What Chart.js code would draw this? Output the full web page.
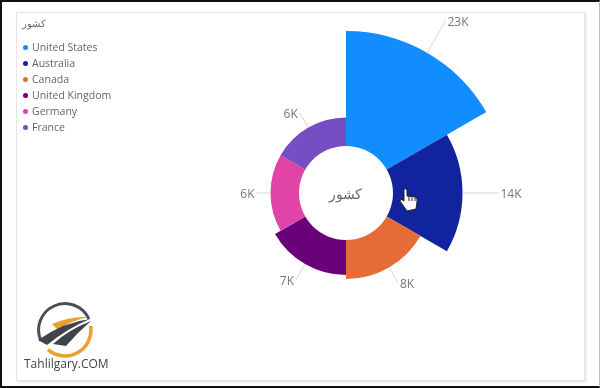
<!DOCTYPE html>
<html>
<head>
<meta charset="utf-8">
<title>کشور</title>
<script src="https://cdn.jsdelivr.net/npm/chart.js@4/dist/chart.umd.js"></script>
<style>
    html, body { margin: 0; padding: 0; background: #fff; }
    #wrap { position: relative; width: 600px; height: 388px; overflow: hidden; }
    #frame { position: absolute; left: 0; top: 0; width: 597px; height: 384px; border: 1px solid #bbb; border-top: 2px solid #111; border-left: 2px solid #111; border-bottom: 2px solid #111; }
    #card { position: absolute; left: 16px; top: 12px; width: 567px; height: 367px; border: 1px solid #e6e6e6; box-shadow: 1px 1px 2px #ddd; }
    #chart { position: absolute; left: 0; top: 0; }
    #logo, #cursor { position: absolute; }
    #logo { left: 20px; top: 302px; }
    #cursor { left: 399px; top: 187px; }
    #brand { position: absolute; left: 24px; top: 355px; font: 12px "Open Sans", sans-serif; color: #444; }
    #legendTitle { position: absolute; left: 22px; top: 16px; font: 10px "Open Sans", sans-serif; color: #666; }
    #legend { position: absolute; left: 23px; top: 39px; font: 10.5px "Open Sans", sans-serif; color: #666; }
    #legend div { height: 16px; line-height: 16px; white-space: nowrap; }
    #legend span { display: inline-block; width: 5px; height: 5px; border-radius: 50%; margin-right: 4px; vertical-align: 1px; }
</style>
</head>
<body>
<div id="wrap">
    <div id="frame"></div>
    <div id="card"></div>
    <canvas id="chart" width="600" height="388"></canvas>
    <div id="legendTitle"></div>
    <div id="legend"></div>
    <svg id="logo" width="80" height="56" viewBox="0 0 80 56">
        <path d="M21 39 A26 26 0 0 1 69 17" fill="none" stroke="#4a4f57" stroke-width="3"/>
        <path d="M70.7 24 A26 26 0 0 1 28 47.6" fill="none" stroke="#e9a02e" stroke-width="3.5"/>
        <path d="M32 22 Q50 14 68 15 Q50 19 38 28 Z" fill="#e9a02e"/>
        <path d="M18 38 Q44 20 70 17 Q48 26 27 43 Z" fill="#3f444c"/>
        <path d="M33 42 Q48 28 71 19 Q58 30 46 44 Z" fill="#3f444c"/>
    </svg>
    <div id="brand">Tahlilgary.COM</div>
    <svg id="cursor" width="20" height="26" viewBox="0 0 20 26">
        <path d="M5 2 Q7 1 8 3 L8 9 L16 10 Q19 11 18 15 L17 22 L8 24 L1 14 Q1 11 5 14 Z" fill="#fff" stroke="#222" stroke-width="1"/>
        <path d="M10 10 V14 M13 10.5 V14 M16 11 V14" stroke="#222" stroke-width="1"/>
    </svg>
</div>
<script>
const categories = ['United States', 'Australia', 'Canada', 'United Kingdom', 'Germany', 'France'];
const salesValues = [23000, 13900, 7800, 7000, 5700, 5700];
const sliceColors = ['#118dff', '#12239e', '#e66c37', '#6b007b', '#e044a7', '#744ec2'];
const leaderLengths = [36, 35, 17, 17, 13, 16];
const legendTitle = 'کشور';
const centerLabel = 'کشور';

const fontName = '"Open Sans", sans-serif';

// Legend sits left of the rose, independent of the chart area
document.getElementById('legendTitle').textContent = legendTitle;
const legendDiv = document.getElementById('legend');
categories.forEach((name, i) => {
    const row = document.createElement('div');
    row.innerHTML = `<span style="background:${sliceColors[i]}"></span>${name}`;
    legendDiv.appendChild(row);
});

// White hole, centre caption and the outside labels with their leader lines
const roseExtras = {
    id: 'roseExtras',
    afterDatasetsDraw(chart) {
        const ctx = chart.ctx;
        const scale = chart.scales.r;
        const holeRadius = scale.getDistanceFromCenterForValue(0);

        ctx.save();
        ctx.fillStyle = '#fff';
        ctx.beginPath();
        ctx.arc(scale.xCenter, scale.yCenter, holeRadius, 0, Math.PI * 2);
        ctx.fill();

        ctx.fillStyle = '#666';
        ctx.font = '14px ' + fontName;
        ctx.textAlign = 'center';
        ctx.textBaseline = 'middle';
        ctx.fillText(centerLabel, scale.xCenter - 1, scale.yCenter + 2);

        chart.getDatasetMeta(0).data.forEach((arc, i) => {
            const mid = (arc.startAngle + arc.endAngle) / 2;
            const cos = Math.cos(mid);
            const sin = Math.sin(mid);
            const r1 = arc.outerRadius + 1;
            const r2 = r1 + leaderLengths[i];

            ctx.strokeStyle = '#d4d4d4';
            ctx.lineWidth = 1;
            ctx.beginPath();
            ctx.moveTo(arc.x + cos * r1, arc.y + sin * r1);
            ctx.lineTo(arc.x + cos * r2, arc.y + sin * r2);
            ctx.stroke();

            ctx.fillStyle = '#777';
            ctx.font = '12px ' + fontName;
            const label = Math.round(salesValues[i] / 1000) + 'K';
            const width = ctx.measureText(label).width;
            ctx.fillText(label, arc.x + cos * r2 + Math.sign(cos) * (width / 2 + 2), arc.y + sin * r2 + 2);
        });
        ctx.restore();
    }
};

new Chart(document.getElementById('chart').getContext('2d'), {
    type: 'polarArea',
    plugins: [roseExtras],
    data: {
        labels: categories,
        datasets: [{
            data: salesValues,
            backgroundColor: sliceColors,
            borderWidth: 0
        }]
    },
    options: {
        responsive: false,
        animation: false,
        layout: { padding: { left: 184, right: 92, top: 14, bottom: 15 } },
        scales: {
            r: {
                display: false,
                min: -9400,
                max: 23000
            }
        },
        plugins: {
            tooltip: { enabled: false },
            legend: { display: false }
        }
    }
});
</script>
</body>
</html>
